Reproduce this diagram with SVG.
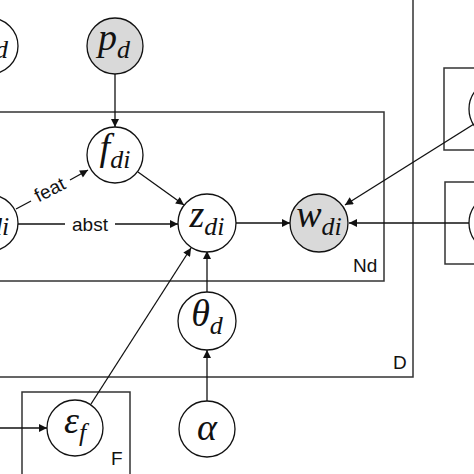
<svg xmlns="http://www.w3.org/2000/svg" width="474" height="474" viewBox="0 0 474 474">
<style>
.plate{fill:none;stroke:#333;stroke-width:1.5}
.node{fill:#fff;stroke:#111;stroke-width:1.3}
.obs{fill:#d9d9d9;stroke:#111;stroke-width:1.3}
.edge{stroke:#111;stroke-width:1.3;fill:none}
.m{font-family:"Liberation Serif","Times New Roman",serif;font-style:italic;font-size:38px;fill:#111}
.s{font-size:26px}
.lab{font-family:"Liberation Sans",Arial,sans-serif;font-size:19px;fill:#111}
</style>
<defs>
<marker id="arr" viewBox="0 0 10 10" refX="10" refY="5" markerWidth="11" markerHeight="8" markerUnits="userSpaceOnUse" orient="auto">
<path d="M0,0 L10,5 L0,10 z" fill="#111"/>
</marker>
</defs>
<rect width="474" height="474" fill="#fff"/>
<g id="plates">
<rect class="plate" x="-5" y="-5" width="418" height="382"/>
<rect class="plate" x="-5" y="112" width="389" height="169"/>
<rect class="plate" x="22" y="392" width="108" height="90"/>
<rect class="plate" x="444" y="68" width="40" height="82"/>
<rect class="plate" x="445" y="182" width="40" height="82"/>
<text class="lab" x="393" y="369">D</text>
<text class="lab" x="353" y="272">Nd</text>
<text class="lab" x="111" y="465">F</text>
</g>
<g id="connectors">
<line class="edge" x1="115" y1="74" x2="115" y2="127" marker-end="url(#arr)"/>
<line class="edge" x1="16" y1="209" x2="31" y2="201"/>
<line class="edge" x1="70" y1="180" x2="88" y2="170" marker-end="url(#arr)"/>
<text class="lab" x="50" y="196" text-anchor="middle" transform="rotate(-27 50 190)">feat</text>
<line class="edge" x1="18" y1="224" x2="65" y2="224"/>
<text class="lab" x="90" y="231" text-anchor="middle">abst</text>
<line class="edge" x1="115" y1="224" x2="178" y2="224" marker-end="url(#arr)"/>
<line class="edge" x1="138" y1="172" x2="184" y2="205" marker-end="url(#arr)"/>
<line class="edge" x1="236" y1="223" x2="290" y2="223" marker-end="url(#arr)"/>
<line class="edge" x1="207" y1="292" x2="207" y2="251" marker-end="url(#arr)"/>
<line class="edge" x1="207" y1="401" x2="207" y2="350" marker-end="url(#arr)"/>
<line class="edge" x1="91" y1="404" x2="191" y2="248" marker-end="url(#arr)"/>
<line class="edge" x1="0" y1="428" x2="47" y2="428" marker-end="url(#arr)"/>
<line class="edge" x1="474" y1="124" x2="345" y2="205" marker-end="url(#arr)"/>
<line class="edge" x1="469" y1="223" x2="349" y2="223" marker-end="url(#arr)"/>
</g>
<g id="node-topleft">
<circle class="node" cx="-10" cy="46" r="28"/>
<text class="m s" x="-5" y="58">d</text>
</g>
<g id="node-p">
<circle class="obs" cx="115" cy="46" r="28"/>
<text class="m" x="114" y="50" text-anchor="middle">p<tspan class="s" dy="8">d</tspan></text>
</g>
<g id="node-xleft">
<circle class="node" cx="-10" cy="223" r="28"/>
<text class="m s" x="-11" y="235">di</text>
</g>
<g id="node-f">
<circle class="node" cx="115" cy="155" r="28"/>
<text class="m" x="115" y="160" text-anchor="middle">f<tspan class="s" dy="8">di</tspan></text>
</g>
<g id="node-z">
<circle class="node" cx="207" cy="223" r="29"/>
<text class="m" x="207" y="227" text-anchor="middle">z<tspan class="s" dy="8">di</tspan></text>
</g>
<g id="node-w">
<circle class="obs" cx="319" cy="223" r="29"/>
<text class="m" x="319" y="227" text-anchor="middle">w<tspan class="s" dy="8">di</tspan></text>
</g>
<g id="node-theta">
<circle class="node" cx="207" cy="321" r="29"/>
<text class="m" x="207" y="326" text-anchor="middle">θ<tspan class="s" dy="8">d</tspan></text>
</g>
<g id="node-alpha">
<circle class="node" cx="207" cy="429" r="28"/>
<text class="m" x="207" y="440" text-anchor="middle">α</text>
</g>
<g id="node-eps">
<circle class="node" cx="75" cy="428" r="28"/>
<text class="m" x="75" y="433" text-anchor="middle">ε<tspan class="s" dy="8">f</tspan></text>
</g>
<g id="node-right1">
<circle class="node" cx="498" cy="109" r="29"/>
</g>
<g id="node-right2">
<circle class="node" cx="498" cy="223" r="29"/>
</g>
</svg>
